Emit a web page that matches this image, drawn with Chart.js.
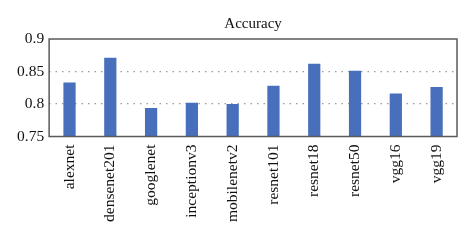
<!DOCTYPE html>
<html>
<head>
<meta charset="utf-8">
<script src="https://cdn.jsdelivr.net/npm/chart.js@4/dist/chart.umd.min.js"></script>
<style>
html,body{margin:0;padding:0;background:#fff;}
#wrap{width:474px;height:240px;position:relative;}
</style>
</head>
<body>
<div id="wrap"><canvas id="c" width="474" height="240"></canvas></div>
<script>
const categories = ['alexnet','densenet201','googlenet','inceptionv3','mobilenetv2','resnet101','resnet18','resnet50','vgg16','vgg19'];
const accuracy = [0.833,0.871,0.794,0.802,0.800,0.828,0.862,0.851,0.816,0.826];
const yTickValues = [0.75,0.8,0.85,0.9];
const yTickLabels = ['0.75','0.8','0.85','0.9'];

const FONT = "'Liberation Serif','DejaVu Serif',serif";

const framePlugin = {
  id:'frame',
  beforeDraw(chart){
    const tb = chart.titleBlock;
    if (tb){ tb.left = chart.chartArea.left; tb.right = chart.chartArea.right; }
  },
  afterDatasetsDraw(chart){
    const {ctx, chartArea:a} = chart;
    ctx.save();
    ctx.strokeStyle = '#5a5a5a';
    ctx.lineWidth = 1.5;
    ctx.strokeRect(a.left, a.top, a.right - a.left, a.bottom - a.top);
    ctx.restore();
  }
};

new Chart(document.getElementById('c'), {
  type:'bar',
  data:{
    labels: categories,
    datasets:[{
      data: accuracy,
      backgroundColor:'#486fbb',
      borderWidth:0,
      barPercentage:0.3,
      categoryPercentage:1.0
    }]
  },
  plugins:[framePlugin],
  options:{
    responsive:false,
    animation:false,
    devicePixelRatio:1,
    layout:{padding:{left:12,right:17,top:0,bottom:10}},
    plugins:{
      legend:{display:false},
      tooltip:{enabled:false},
      title:{
        display:true,
        text:'Accuracy',
        color:'#111',
        font:{family:FONT,size:15,weight:'normal'},
        padding:{top:15,bottom:6}
      }
    },
    scales:{
      x:{
        grid:{display:false,drawTicks:false},
        border:{display:false},
        ticks:{
          color:'#111',
          font:{family:FONT,size:15.5},
          maxRotation:90,minRotation:90,
          padding:8,
          autoSkip:false
        }
      },
      y:{
        min:0.75,max:0.9,
        afterBuildTicks(scale){ scale.ticks = yTickValues.map(v=>({value:v})); },
        grid:{
          drawTicks:false,
          color:(c)=> (c.tick && (c.tick.value===0.8 || c.tick.value===0.85)) ? '#9a9a9a' : 'rgba(0,0,0,0)',
          lineWidth:1.2
        },
        border:{display:false,dash:[1.5,5]},
        ticks:{
          color:'#111',
          font:{family:FONT,size:15.5},
          padding:5,
          callback:(v,i)=> yTickLabels[yTickValues.indexOf(Math.round(v*100)/100)] ?? ''
        }
      }
    }
  }
});
</script>
</body>
</html>
